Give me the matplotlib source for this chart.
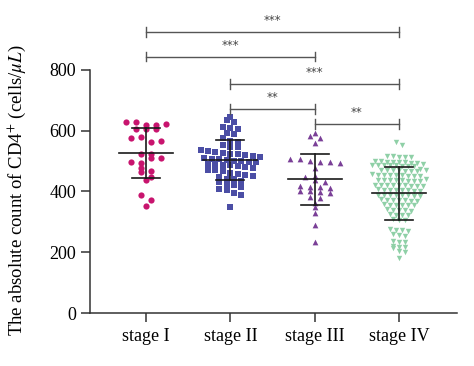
import numpy as np
import matplotlib
matplotlib.use('Agg')
import matplotlib.pyplot as plt

plt.rcParams.update({
    "font.family": "serif",
    "font.serif": ["Liberation Serif", "DejaVu Serif"],
    "mathtext.fontset": "stix"})

# data
stages = ['stage I', 'stage II', 'stage III', 'stage IV']

stage1 = [630, 630, 619, 619, 622, 606, 606, 606, 575, 578, 564, 567, 522, 522,
          498, 495, 509, 509, 476, 465, 468, 447, 438, 388, 372, 353]
stage2 = [646, 635, 628, 612, 608, 605, 593, 588, 577, 566, 562, 552, 548, 545,
          535, 533, 530, 528, 525, 522, 520, 518, 515, 510, 508, 506, 504, 502,
          500, 498, 496, 492, 490, 488, 486, 484, 480, 476, 472, 470, 468, 462,
          458, 455, 452, 448, 442, 440, 436, 430, 425, 420, 415, 408, 404, 395,
          390, 350]
stage3 = [592, 583, 575, 561, 506, 506, 501, 498, 498, 493, 478, 451, 449, 438,
          431, 418, 416, 414, 412, 402, 400, 398, 396, 383, 380, 362, 349, 330,
          290, 235]
stage4 = [564, 553,
          518, 516, 515, 514, 512,
          500, 499, 498, 498, 497, 496, 495, 494,
          489, 488, 488, 487, 486, 486, 485, 484, 483,
          473, 472, 471, 471, 470, 470, 469, 468, 467,
          456, 455, 455, 454, 454, 453, 452, 452, 451,
          440, 439, 439, 438, 438, 437, 436, 436, 435,
          423, 422, 422, 421, 421, 420, 419, 419, 418,
          407, 406, 406, 405, 404, 404, 403, 402,
          390, 389, 389, 388, 387, 387, 386, 385,
          374, 373, 372, 372, 371, 370, 369,
          358, 357, 356, 355, 355, 354,
          341, 340, 339, 338, 337,
          325, 324, 322, 321,
          308, 306, 305,
          275, 273, 272, 270,
          259, 257, 255,
          237, 235, 233,
          220, 218, 217, 215,
          203, 201,
          180]
groups = [stage1, stage2, stage3, stage4]

means = [526, 504, 440, 394]
sds = [82, 67, 84, 87]

colors = ['#c8146e', '#4b4ea5', '#7a3f97', '#8fd0a7']
markers = ['o', 's', '^', 'v']
sizes = [20, 19, 17, 15]
bins = [24, 21, 20, 16]
dxs = [0.118, 0.088, 0.118, 0.072]

# significance brackets: (start, end, height, label)
brackets = [(0, 3, 926, '***'), (0, 2, 844, '***'), (1, 3, 753, '***'),
            (1, 2, 671, '**'), (2, 3, 622, '**')]


def swarm_x(vals, pos, binw, dx):
    vals = np.asarray(vals, dtype=float)
    xs = np.zeros_like(vals)
    keys = np.round(vals / binw)
    for k in np.unique(keys):
        idx = np.where(keys == k)[0]
        n = len(idx)
        offs = (np.arange(n) - (n - 1) / 2.0) * dx
        xs[idx] = pos + offs
    return xs


fig = plt.figure(figsize=(4.74, 3.66), dpi=100)
ax = fig.add_axes([90 / 474, 53 / 366, 367 / 474, 306.8 / 366])

for i, vals in enumerate(groups):
    xs = swarm_x(vals, i, bins[i], dxs[i])
    ax.scatter(xs, vals, s=sizes[i], marker=markers[i], color=colors[i],
               linewidths=0, zorder=2)
    m, s = means[i], sds[i]
    ax.plot([i - 0.32, i + 0.32], [m, m], color='#1a1a1a', lw=1.2, zorder=3)
    ax.plot([i, i], [m - s, m + s], color='#1a1a1a', lw=1.2, zorder=3)
    ax.plot([i - 0.165, i + 0.165], [m + s, m + s], color='#1a1a1a', lw=1.2, zorder=3)
    ax.plot([i - 0.165, i + 0.165], [m - s, m - s], color='#1a1a1a', lw=1.2, zorder=3)

for a, b, h, lab in brackets:
    ax.plot([a, b], [h, h], color='#555555', lw=1.0, clip_on=False)
    ax.plot([a, a], [h - 16, h + 16], color='#555555', lw=1.0, clip_on=False)
    ax.plot([b, b], [h - 16, h + 16], color='#555555', lw=1.0, clip_on=False)
    ax.text((a + b) / 2, h + 38, lab, ha='center', va='center',
            fontsize=8.5, color='#444444', family='DejaVu Sans')

ax.set_xlim(-0.664, 3.688)
ax.set_ylim(0, 1010)
ax.set_xticks(range(4))
ax.set_xticklabels(stages, fontsize=13)
ax.set_yticks([0, 200, 400, 600, 800])
ax.tick_params(axis='y', labelsize=13, length=6.5, width=1.1, color='#333333')
ax.tick_params(axis='x', length=6.5, width=1.1, color='#333333', pad=4)

ax.spines['top'].set_visible(False)
ax.spines['right'].set_visible(False)
ax.spines['left'].set_bounds(0, 800)
for sp in ['left', 'bottom']:
    ax.spines[sp].set_linewidth(1.1)
    ax.spines[sp].set_color('#333333')

ax.set_ylabel(r'The absolute count of CD4$^{+}$ (cells/$\mu L$)', fontsize=13.5)
ax.yaxis.set_label_coords(-0.17, 0.40)

fig.savefig('out.png', dpi=100)
